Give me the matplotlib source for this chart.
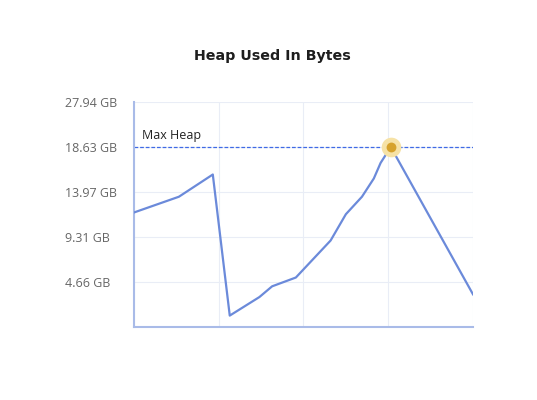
import numpy as np
import matplotlib.pyplot as plt

# heap usage samples (x in grid units, heap in GB)
sample_x = [0.0, 0.53, 0.93, 1.13, 1.48, 1.63, 1.91, 2.32, 2.50, 2.69, 2.83, 2.91, 3.03, 4.0]
heap_gb = [11.85, 13.48, 15.78, 1.18, 3.10, 4.21, 5.12, 8.95, 11.67, 13.48, 15.37, 16.98, 18.63, 3.38]
peak_index = 12
max_heap_gb = 18.63

ytick_values = [4.657, 9.313, 13.97, 18.627, 23.283]
ytick_labels = ['4.66 GB', '9.31 GB', '13.97 GB', '18.63 GB', '27.94 GB']
xgrid = [0, 1, 2, 3, 4]

fig = plt.figure(figsize=(5.37, 4.0), dpi=100)
ax = fig.add_axes([0.2495, 0.1825, 0.6313, 0.5625])

line_color = '#6b8ada'
ax.plot(sample_x, heap_gb, color=line_color, linewidth=1.6, zorder=3)
ax.axhline(max_heap_gb, color='#3f6ae6', linewidth=0.9, linestyle=(0, (3, 1.5)), zorder=2)
ax.text(0.1, max_heap_gb + 1.15, 'Max Heap', fontsize=9, color='#222222',
        family='Open Sans', va='center', ha='left')

# highlighted peak
ax.scatter([sample_x[peak_index]], [heap_gb[peak_index]], s=200, color='#f6e2a6', zorder=4, linewidths=0)
ax.scatter([sample_x[peak_index]], [heap_gb[peak_index]], s=50, color='#d6a22c', zorder=5, linewidths=0)

ax.set_xlim(0, 4)
ax.set_ylim(0, 23.283)
ax.set_xticks(xgrid)
ax.set_xticklabels([])
ax.set_yticks(ytick_values)
ax.set_yticklabels(ytick_labels)
ax.tick_params(axis='both', length=0)
ax.tick_params(axis='y', pad=49.5, labelsize=9, labelcolor='#666666')
for lab in ax.get_yticklabels():
    lab.set_horizontalalignment('left')
    lab.set_family('Open Sans')

ax.grid(True, color='#e9edf6', linewidth=0.8)
ax.set_axisbelow(True)
for side in ['top', 'right']:
    ax.spines[side].set_visible(False)
for side in ['left', 'bottom']:
    ax.spines[side].set_color('#a9bbe8')
    ax.spines[side].set_linewidth(1.5)

fig.text(0.5065, 0.86, 'Heap Used In Bytes', ha='center', va='center',
         fontsize=10.3, fontweight='heavy', family='DejaVu Sans', color='#1e1e1e')

fig.savefig('out.png', dpi=100)
